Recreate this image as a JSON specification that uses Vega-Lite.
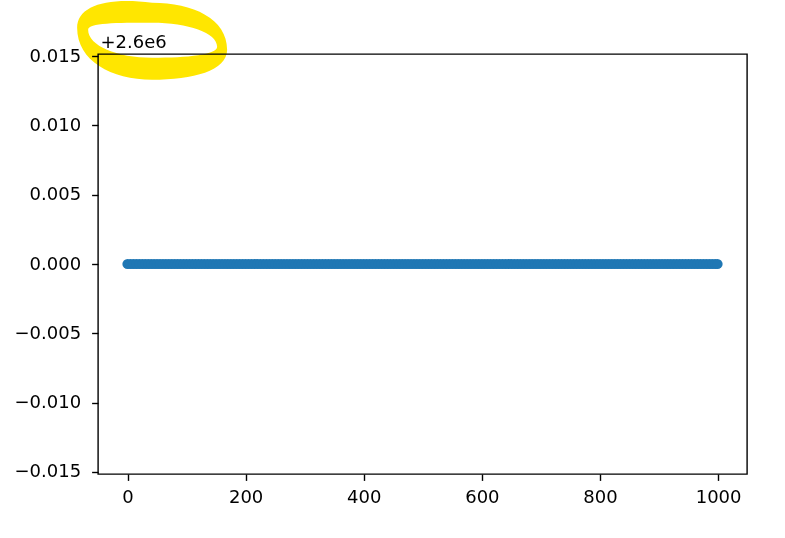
{
  "$schema": "https://vega.github.io/schema/vega-lite/v6.json",
  "width": 649,
  "height": 420,
  "autosize": "none",
  "padding": {"left": 98, "top": 54, "right": 38, "bottom": 64},
  "background": "white",
  "config": {
    "view": {"stroke": "black", "strokeWidth": 1.4},
    "font": "DejaVu Sans",
    "axis": {
      "grid": false,
      "domain": false,
      "tickColor": "black",
      "tickWidth": 1.4,
      "tickSize": 6.4,
      "labelFont": "DejaVu Sans",
      "labelFontSize": 18,
      "labelColor": "black",
      "titleFont": "DejaVu Sans"
    }
  },
  "datasets": {
    "points": [
      {"x":0,"y":2600000},{"x":5,"y":2600000},{"x":10,"y":2600000},{"x":15,"y":2600000},{"x":20,"y":2600000},{"x":25,"y":2600000},{"x":30,"y":2600000},{"x":35,"y":2600000},{"x":40,"y":2600000},{"x":45,"y":2600000},
      {"x":50,"y":2600000},{"x":55,"y":2600000},{"x":60,"y":2600000},{"x":65,"y":2600000},{"x":70,"y":2600000},{"x":75,"y":2600000},{"x":80,"y":2600000},{"x":85,"y":2600000},{"x":90,"y":2600000},{"x":95,"y":2600000},
      {"x":100,"y":2600000},{"x":105,"y":2600000},{"x":110,"y":2600000},{"x":115,"y":2600000},{"x":120,"y":2600000},{"x":125,"y":2600000},{"x":130,"y":2600000},{"x":135,"y":2600000},{"x":140,"y":2600000},{"x":145,"y":2600000},
      {"x":150,"y":2600000},{"x":155,"y":2600000},{"x":160,"y":2600000},{"x":165,"y":2600000},{"x":170,"y":2600000},{"x":175,"y":2600000},{"x":180,"y":2600000},{"x":185,"y":2600000},{"x":190,"y":2600000},{"x":195,"y":2600000},
      {"x":200,"y":2600000},{"x":205,"y":2600000},{"x":210,"y":2600000},{"x":215,"y":2600000},{"x":220,"y":2600000},{"x":225,"y":2600000},{"x":230,"y":2600000},{"x":235,"y":2600000},{"x":240,"y":2600000},{"x":245,"y":2600000},
      {"x":250,"y":2600000},{"x":255,"y":2600000},{"x":260,"y":2600000},{"x":265,"y":2600000},{"x":270,"y":2600000},{"x":275,"y":2600000},{"x":280,"y":2600000},{"x":285,"y":2600000},{"x":290,"y":2600000},{"x":295,"y":2600000},
      {"x":300,"y":2600000},{"x":305,"y":2600000},{"x":310,"y":2600000},{"x":315,"y":2600000},{"x":320,"y":2600000},{"x":325,"y":2600000},{"x":330,"y":2600000},{"x":335,"y":2600000},{"x":340,"y":2600000},{"x":345,"y":2600000},
      {"x":350,"y":2600000},{"x":355,"y":2600000},{"x":360,"y":2600000},{"x":365,"y":2600000},{"x":370,"y":2600000},{"x":375,"y":2600000},{"x":380,"y":2600000},{"x":385,"y":2600000},{"x":390,"y":2600000},{"x":395,"y":2600000},
      {"x":400,"y":2600000},{"x":405,"y":2600000},{"x":410,"y":2600000},{"x":415,"y":2600000},{"x":420,"y":2600000},{"x":425,"y":2600000},{"x":430,"y":2600000},{"x":435,"y":2600000},{"x":440,"y":2600000},{"x":445,"y":2600000},
      {"x":450,"y":2600000},{"x":455,"y":2600000},{"x":460,"y":2600000},{"x":465,"y":2600000},{"x":470,"y":2600000},{"x":475,"y":2600000},{"x":480,"y":2600000},{"x":485,"y":2600000},{"x":490,"y":2600000},{"x":495,"y":2600000},
      {"x":500,"y":2600000},{"x":505,"y":2600000},{"x":510,"y":2600000},{"x":515,"y":2600000},{"x":520,"y":2600000},{"x":525,"y":2600000},{"x":530,"y":2600000},{"x":535,"y":2600000},{"x":540,"y":2600000},{"x":545,"y":2600000},
      {"x":550,"y":2600000},{"x":555,"y":2600000},{"x":560,"y":2600000},{"x":565,"y":2600000},{"x":570,"y":2600000},{"x":575,"y":2600000},{"x":580,"y":2600000},{"x":585,"y":2600000},{"x":590,"y":2600000},{"x":595,"y":2600000},
      {"x":600,"y":2600000},{"x":605,"y":2600000},{"x":610,"y":2600000},{"x":615,"y":2600000},{"x":620,"y":2600000},{"x":625,"y":2600000},{"x":630,"y":2600000},{"x":635,"y":2600000},{"x":640,"y":2600000},{"x":645,"y":2600000},
      {"x":650,"y":2600000},{"x":655,"y":2600000},{"x":660,"y":2600000},{"x":665,"y":2600000},{"x":670,"y":2600000},{"x":675,"y":2600000},{"x":680,"y":2600000},{"x":685,"y":2600000},{"x":690,"y":2600000},{"x":695,"y":2600000},
      {"x":700,"y":2600000},{"x":705,"y":2600000},{"x":710,"y":2600000},{"x":715,"y":2600000},{"x":720,"y":2600000},{"x":725,"y":2600000},{"x":730,"y":2600000},{"x":735,"y":2600000},{"x":740,"y":2600000},{"x":745,"y":2600000},
      {"x":750,"y":2600000},{"x":755,"y":2600000},{"x":760,"y":2600000},{"x":765,"y":2600000},{"x":770,"y":2600000},{"x":775,"y":2600000},{"x":780,"y":2600000},{"x":785,"y":2600000},{"x":790,"y":2600000},{"x":795,"y":2600000},
      {"x":800,"y":2600000},{"x":805,"y":2600000},{"x":810,"y":2600000},{"x":815,"y":2600000},{"x":820,"y":2600000},{"x":825,"y":2600000},{"x":830,"y":2600000},{"x":835,"y":2600000},{"x":840,"y":2600000},{"x":845,"y":2600000},
      {"x":850,"y":2600000},{"x":855,"y":2600000},{"x":860,"y":2600000},{"x":865,"y":2600000},{"x":870,"y":2600000},{"x":875,"y":2600000},{"x":880,"y":2600000},{"x":885,"y":2600000},{"x":890,"y":2600000},{"x":895,"y":2600000},
      {"x":900,"y":2600000},{"x":905,"y":2600000},{"x":910,"y":2600000},{"x":915,"y":2600000},{"x":920,"y":2600000},{"x":925,"y":2600000},{"x":930,"y":2600000},{"x":935,"y":2600000},{"x":940,"y":2600000},{"x":945,"y":2600000},
      {"x":950,"y":2600000},{"x":955,"y":2600000},{"x":960,"y":2600000},{"x":965,"y":2600000},{"x":970,"y":2600000},{"x":975,"y":2600000},{"x":980,"y":2600000},{"x":985,"y":2600000},{"x":990,"y":2600000},{"x":995,"y":2600000},
      {"x":999,"y":2600000}
    ]
  },
  "layer": [
    {
      "data": {"name": "points"},
      "mark": {"type": "circle", "size": 105, "color": "#1f77b4", "opacity": 1},
      "encoding": {
        "x": {
          "field": "x",
          "type": "quantitative",
          "scale": {"domain": [-49.95, 1048.95], "nice": false, "zero": false},
          "axis": {"values": [0, 200, 400, 600, 800, 1000], "format": "d", "title": null, "labelPadding": 8}
        },
        "y": {
          "field": "y",
          "type": "quantitative",
          "scale": {"domain": [2599999.98485, 2600000.01515], "nice": false, "zero": false},
          "axis": {
            "values": [2599999.985, 2599999.99, 2599999.995, 2600000, 2600000.005, 2600000.01, 2600000.015],
            "labelExpr": "replace(format(datum.value - 2600000, '.3f'), '-', '\u2212')",
            "labelPadding": 11,
            "title": "+2.6e6",
            "titleX": 2,
            "titleY": -7,
            "titleAngle": 0,
            "titleAlign": "left",
            "titleBaseline": "alphabetic",
            "titleFontSize": 18,
            "titleFontWeight": "normal",
            "titleColor": "black"
          }
        }
      }
    },
    {
      "data": {"values": [{}]},
      "mark": {
        "type": "point",
        "shape": "M -1 -0.1733 C -1 -0.4667 -0.6 -0.5867 0 -0.5067 C 0.5467 -0.5067 1 -0.2933 1 0.12 C 1 0.4 0.5467 0.52 0 0.52 C -0.5467 0.52 -1 0.2667 -1 -0.1733 Z M -0.8533 -0.1467 C -0.8533 0.0667 -0.4667 0.2267 0 0.2267 C 0.48 0.2267 0.8667 0.1867 0.8667 0.08 C 0.8667 -0.1067 0.48 -0.24 0 -0.24 C -0.48 -0.24 -0.8533 -0.24 -0.8533 -0.1467 Z",
        "size": 22500,
        "filled": true,
        "fill": "#FFE600",
        "strokeWidth": 0,
        "opacity": 1,
        "blend": "multiply"
      },
      "encoding": {
        "x": {"datum": 41.7, "type": "quantitative"},
        "y": {"datum": 2600000.0161, "type": "quantitative"}
      }
    }
  ]
}
